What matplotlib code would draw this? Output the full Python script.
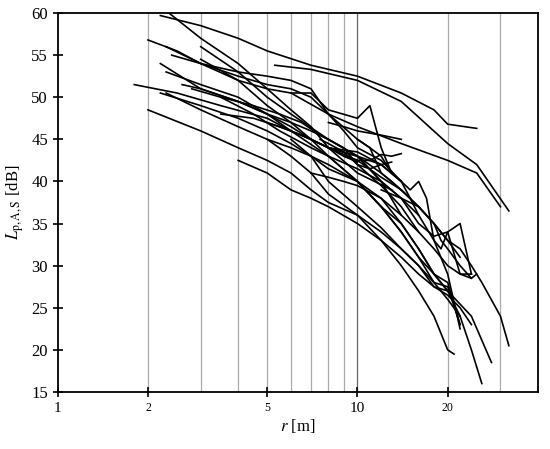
import matplotlib
matplotlib.use("Agg")
import matplotlib.pyplot as plt
plt.rcParams['mathtext.fontset'] = 'stix'

series = [
 ([2.2,3,4,5,7,10,14,18,20,25],[59.7,58.5,57,55.5,53.8,52.5,50.5,48.5,46.8,46.3]),
 ([5.3,7,10,14,20,25,32],[53.8,53.3,52,49.5,44.5,42,36.5]),
 ([6,8,10,14,20,25,30],[50.5,48,46.5,44.5,42.5,41,37]),
 ([2.35,3,4,5,6,7,8,10,13],[60,57,54,51,48.5,46.5,44,41,39]),
 ([2,2.5,3,4,5,6,7,8,9,10],[56.8,55.5,54,52,49,47,45,44,43,42.3]),
 ([2.3,3,4,5,6,7,8,9,10,12,14],[56,54,52.5,51.5,51,50,48,46,44,42.5,40]),
 ([3,4,5,6,8,10,12,14],[56,53,50,48,45,43,42,40]),
 ([2.4,3,4,5,6,7,8,10,11,12,13,15],[55,54,53,52.5,52,51,48,45,44,41,40,38]),
 ([2.2,3,4,5,6,7,8,10,12,14,16,18,20,22],[54,51,49.5,48,47,46,45,43,40,38,36,33,29,22.5]),
 ([2.3,3,4,5,6,8,10,12,14,16,18,20,22],[53,51.5,50,48,46,43,40,37,34,31,28,27.5,23]),
 ([2.2,3,4,5,6,7,8,10,12,14,16,18,20,22],[50.5,49,47.5,46,44.5,43,41.5,40,38,35,32,29,27,24]),
 ([1.8,2.5,3.5,5,6,7,8,10,12,14],[51.5,50.5,49,47.5,46,45,44,43,40,36]),
 ([2,3,4,5,6,7,8,10,12,14,16,18,20],[48.5,46,44,42.5,41,39,37.5,36,34,32,30,27.5,27]),
 ([2.3,3,4,5,6,7,8,10,12,14,16,18,20,21],[50.5,48.5,46.5,45,43,41,38.5,36,33,30,27,24,20,19.5]),
 ([2.6,3,4,5,6,7,8,10,12,14,16,18,20,22],[51.5,51,49.5,48,46.5,45,43,40,37,35,32,29,28,23]),
 ([2.8,3.5,4.5,5.5,6.5,7.5,9,10,12,14,16],[51,50,49,48,47,45.5,44,42,39.5,37,34]),
 ([3.5,4.5,5.5,6.5,8,10,12,14,16,18,20,22],[48,47.5,46.5,45.5,44,42.5,40.5,39,37,35,33,31]),
 ([3.5,4.5,5.5,7,8,10,12,14,16,18,20,22,24],[50,48,46,44,43,41.5,40,38,35,33.5,34,29,28.5]),
 ([5,6,7,8,10,12,14,16,18,20,22,24,26,30,32],[47,46,45,44,43,41,39,37,35,33,32,30,28,24,20.5]),
 ([5,6,7,8,10,12,14,16,18,20,24,28],[45,44,43,42,40,37,34,31,29,27,24,18.5]),
 ([6,7,8,10,12,14,16,18,20,22,24,26],[45,43,40,37,34.5,32,30,28,26,24,20,16]),
 ([4,5,6,7,8,10,12,14,16,18,20,22,24],[42.5,41,39,38,37,35,33,31,29,27.5,26.5,25,23]),
 ([7,8,9,10,12,14,16,18,20,22,24],[41,40.5,40,39.5,38,36,34,32,30,29,29]),
 ([8,10,12,14,15,16,17,18,19,20,22,24],[44,43.5,42,40,39,40,38,33,32,34,35,29]),
 ([7.5,8,9,10,11,12,13],[45,44.5,43.5,42,41.5,42,42.3]),
 ([9,10,11,12,13,14],[43,42.5,42.5,43.2,43,43.3]),
 ([8,9,10,12,14],[47,46.5,46,45.5,45]),
 ([10,11,12,13,14],[45,44,43,41,40]),
 ([12,14,16,18,19,20,22,24,25],[39,38,37,35,33,32,30,28.5,29]),
 ([3,4,5,6,7,8,10,11,12,13,14,15,16],[54.5,52,51,50.5,50.5,48.5,47.5,49,44,41,40,38,36]),
]
xticks = [1, 2, 5, 10, 20]
xtick_labels = ['1', '2', '5', '10', '20']

fig = plt.figure(figsize=(5.5,4.49), dpi=100)
ax = fig.add_axes([0.105,0.127,0.873,0.844])
for g in [2,3,4,5,6,7,8,9,10,20,30]:
    ax.axvline(g, color='#aaaaaa' if g!=10 else '#666666', lw=0.9, zorder=0)
for r, L in series:
    ax.plot(r, L, color='black', lw=1.2)
ax.set_xscale('log')
ax.set_xlim(1, 40)
ax.set_ylim(15, 60)
ax.set_xticks(xticks)
ax.set_xticklabels(xtick_labels, family='Liberation Serif', fontsize=11)
for lab, v in zip(ax.get_xticklabels(), xticks):
    if v not in (1, 10):
        lab.set_fontsize(8.5)
ax.minorticks_off()
ax.set_yticks(range(15,61,5))
ax.set_yticklabels([str(v) for v in range(15,61,5)], family='Liberation Serif', fontsize=12)
ax.tick_params(direction='inout', length=7, width=1.2)
ax.set_xlabel(r'$r$ [m]', family='Liberation Serif', fontsize=12, labelpad=2)
ax.set_ylabel(r'$L_{\mathrm{p,A,S}}$ [dB]', family='Liberation Serif', fontsize=12)
for s in ax.spines.values(): s.set_linewidth(1.3)
fig.savefig('out.png')
